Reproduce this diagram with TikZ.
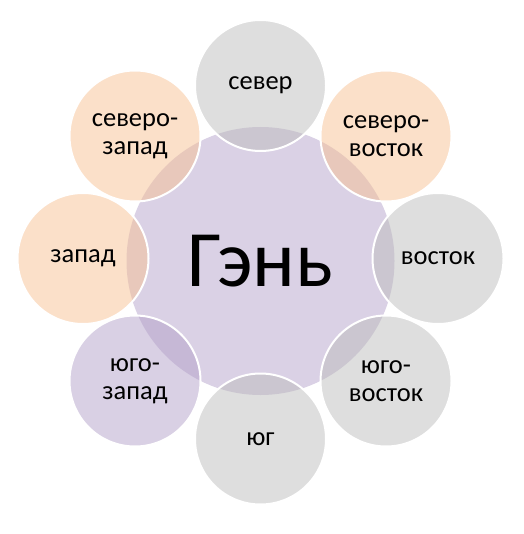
\documentclass[tikz,border=0pt]{standalone}
\usepackage{fontspec}
\setmainfont{Carlito}
\definecolor{cpurple}{RGB}{218,209,229}
\definecolor{sgray}{RGB}{189,189,189}
\definecolor{sorange}{RGB}{247,193,147}
\definecolor{spurple}{RGB}{179,161,201}
\tikzset{
  hub/.style={circle, inner sep=0pt, minimum size=268pt, fill=cpurple,
    font=\fontsize{80}{90}\selectfont},
  sat/.style={circle, inner sep=0pt, minimum size=131pt, draw=white,
    line width=2pt, fill opacity=0.5, text opacity=1, align=center,
    font=\fontsize{26.5}{28.5}\selectfont},
  satgray/.style={sat, fill=sgray},
  satorange/.style={sat, fill=sorange},
  satpurple/.style={sat, fill=spurple}
}
\begin{document}
\begin{tikzpicture}[x=1pt,y=-1pt]
\useasboundingbox (0,0) rectangle (523,534);
\node[hub] (c) at (260.5,261) {Гэнь};
\node[satgray] (n) at (260.5,85.5) {север};
\node[satorange] (ne) at (386,136) {северо-\\восток};
\node[satgray] (e) at (438,258.5) {восток};
\node[satgray] (se) at (386,381) {юго-\\восток};
\node[satgray] (s) at (260.5,439) {юг};
\node[satpurple] (sw) at (135,381) {юго-\\запад};
\node[satorange] (w) at (83,258.5) {запад};
\node[satorange] (nw) at (135,136) {северо-\\запад};
\end{tikzpicture}
\end{document}
